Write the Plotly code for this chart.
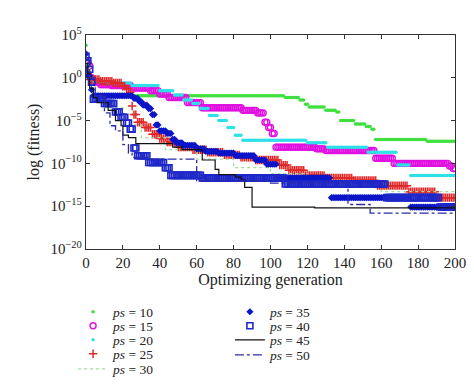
import numpy as np
import plotly.graph_objects as go

# Best-so-far fitness: generations where a new best was found, and log10(fitness) there
gen_10 = [0, 1, 3, 108, 116, 119, 121, 130, 136, 138, 146, 152, 155, 157, 185]
log_10 = [3.8, 0.6, -2.1, -2.3, -2.6, -3.1, -3.4, -3.8, -4.0, -5.0, -5.4, -5.7, -6.0, -7.2, -7.4]

gen_15 = [0, 1, 2, 3, 4, 8, 14, 25, 35, 40, 45, 55, 63, 85, 93, 97, 99, 101, 103, 125, 130, 157, 167, 197, 199]
log_15 = [2.0, 1.7, 1.4, 0.0, -0.5, -0.8, -0.9, -1.2, -1.5, -1.9, -2.3, -2.9, -3.5, -3.8, -4.1, -5.2, -5.8, -6.5, -8.1, -8.3, -8.5, -9.4, -10.0, -10.3, -10.6]

gen_20 = [0, 2, 4, 12, 25, 40, 48, 53, 58, 62, 67, 72, 77, 81, 85, 120, 131, 153, 169, 176]
log_20 = [1.2, 0.0, -0.4, -0.6, -0.9, -1.5, -2.0, -2.6, -3.0, -3.6, -4.4, -5.0, -5.8, -6.7, -7.3, -7.6, -8.1, -8.7, -10.2, -11.4]

gen_25 = [0, 1, 2, 8, 15, 20, 22, 24, 25, 26, 28, 32, 36, 40, 44, 50, 58, 66, 75, 84, 92, 105, 110, 119, 130, 145, 158, 175, 190]
log_25 = [1.2, 0.5, -0.2, -0.4, -0.6, -1.0, -1.3, -1.7, -3.3, -4.3, -5.2, -5.8, -6.6, -7.1, -7.5, -8.1, -8.4, -8.7, -9.0, -9.3, -9.6, -10.2, -10.8, -11.4, -11.7, -12.0, -12.6, -13.3, -14.0]

gen_30 = [0, 2, 5, 10, 20, 30, 43, 60, 80, 100, 120, 140, 160, 200]
log_30 = [1.5, -0.5, -2.0, -3.5, -5.5, -7.0, -8.4, -9.5, -10.5, -11.2, -12.0, -12.8, -13.3, -13.3]

gen_35 = [0, 1, 3, 4, 26, 29, 31, 34, 36, 38, 40, 44, 47, 49, 53, 60, 65, 72, 81, 92, 98, 104, 133, 176]
log_35 = [2.8, 0.2, -1.4, -2.1, -2.4, -2.8, -3.2, -3.6, -4.3, -5.5, -6.2, -6.5, -7.2, -7.6, -7.9, -8.3, -8.6, -8.8, -9.1, -9.6, -10.1, -11.7, -14.0, -15.1]

gen_40 = [0, 1, 2, 3, 4, 10, 16, 19, 22, 24, 26, 28, 34, 43, 46, 63, 108, 163, 192]
log_40 = [2.5, 2.0, 1.0, -0.5, -2.5, -3.0, -4.0, -4.6, -5.3, -6.0, -8.2, -9.1, -9.9, -10.5, -11.4, -11.7, -12.4, -14.0, -15.1]

gen_45 = [0, 1, 2, 4, 6, 12, 16, 19, 20, 23, 27, 47, 52, 63, 70, 72, 81, 84, 86, 90, 124, 200]
log_45 = [1.7, 0.5, -1.2, -2.3, -2.9, -3.8, -5.0, -5.6, -6.7, -7.0, -7.7, -8.1, -8.4, -9.6, -10.7, -11.3, -11.6, -11.9, -12.8, -15.1, -15.2, -15.2]

gen_50 = [0, 2, 5, 10, 13, 16, 20, 23, 25, 34, 53, 60, 100, 142, 154, 200]
log_50 = [2.0, 0.0, -2.0, -4.1, -5.6, -6.2, -7.8, -8.8, -9.3, -9.5, -9.5, -12.0, -12.3, -14.8, -15.8, -15.8]

ytick_exponents = [-20, -15, -10, -5, 0, 5]

generations = np.arange(0, 201)


def held(gens, logs):
    # best fitness stays at the last improvement until the next one
    idx = np.searchsorted(np.array(gens), generations, side="right") - 1
    return 10.0 ** np.array(logs)[idx]


SERIF = "Liberation Serif"
fig = go.Figure()

# each legend entry gets its own legend box so the rows can sit as tightly as in the original
PLOT_TOP, PLOT_H = 27, 214


def legend_box(x, ypix):
    return dict(x=x, y=(PLOT_TOP + PLOT_H - ypix) / PLOT_H, xanchor="left", yanchor="middle",
                bgcolor="rgba(0,0,0,0)", font=dict(family=SERIF, size=13.5, color="#222222"),
                itemwidth=30, borderwidth=0)


legend_layout = {}

entries = [
    ("10", "markers", gen_10, log_10, dict(marker=dict(symbol="circle", size=3.5, color="#3ee03e")), -0.035, 304),
    ("15", "markers", gen_15, log_15, dict(marker=dict(symbol="circle-open", size=6, color="#e010e0", line=dict(width=1.4))), -0.035, 318),
    ("20", "markers", gen_20, log_20, dict(marker=dict(symbol="circle", size=3.5, color="#2ee0e8")), -0.035, 332),
    ("25", "markers", gen_25, log_25, dict(marker=dict(symbol="cross-thin-open", size=6, color="#e02828", line=dict(width=1.5))), -0.035, 346),
    ("30", "lines", gen_30, log_30, dict(line=dict(color="#9ede9e", width=1.3, dash="dot")), -0.035, 361),
    ("35", "markers", gen_35, log_35, dict(marker=dict(symbol="diamond", size=5.5, color="#0a14c8")), 0.39, 304),
    ("40", "markers", gen_40, log_40, dict(marker=dict(symbol="square-open", size=6, color="#1e28c8", line=dict(width=1.6))), 0.39, 318),
    ("45", "lines", gen_45, log_45, dict(line=dict(color="#111111", width=1.2)), 0.39, 332),
    ("50", "lines", gen_50, log_50, dict(line=dict(color="#2a2aa8", width=1.3, dash="dashdot")), 0.39, 347),
]

for i, (name, mode, g, l, style, lx, ly) in enumerate(entries):
    lg = f"legend{i + 2}"
    legend_layout[lg] = legend_box(lx, ly)
    if mode == "markers":
        fig.add_trace(go.Scatter(x=generations, y=held(g, l), mode="markers",
                                 name=f"<i>ps</i> = {name}", legend=lg, **style))
    else:
        fig.add_trace(go.Scatter(x=g, y=10.0 ** np.array(l), mode="lines", line_shape="hv",
                                 name=f"<i>ps</i> = {name}", legend=lg, **style))

axis_common = dict(showline=True, linecolor="#333333", linewidth=1.3, mirror="ticks",
                   ticks="inside", ticklen=4, tickcolor="#333333", showgrid=False, zeroline=False,
                   tickfont=dict(family=SERIF, size=15, color="#222222"))

ytick_text = [f"10<sup>{e}</sup>".replace("-", "\u2212") for e in ytick_exponents]

fig.update_layout(
    width=474, height=388,
    margin=dict(l=78, r=27, t=PLOT_TOP, b=388 - PLOT_TOP - PLOT_H),
    paper_bgcolor="white", plot_bgcolor="white",
    font=dict(family=SERIF, size=14, color="#222222"),
    xaxis=dict(range=[0, 200], tick0=0, dtick=20,
               title=dict(text="Optimizing generation", font=dict(family=SERIF, size=16), standoff=1),
               **axis_common),
    yaxis=dict(type="log", range=[-20, 5], tickvals=[10.0 ** e for e in ytick_exponents],
               ticktext=ytick_text,
               title=dict(text="log (fitness)", font=dict(family=SERIF, size=16), standoff=6),
               **axis_common),
    **legend_layout,
)

fig.write_html("out.html")
